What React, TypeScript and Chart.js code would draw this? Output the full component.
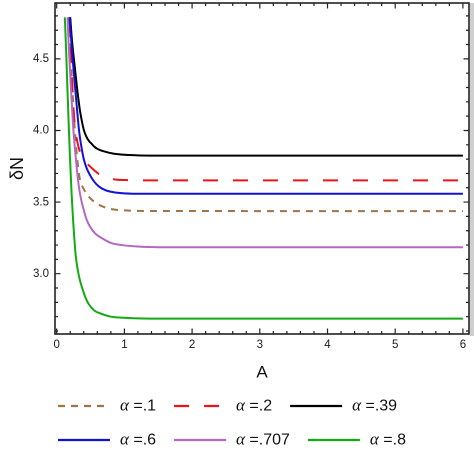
import { useEffect, useRef } from 'react';
import { Chart, registerables } from 'chart.js';

Chart.register(...registerables);

// ---- data ----
const LABELS = ['α =.1', 'α =.2', 'α =.39', 'α =.6', 'α =.707', 'α =.8'];

const A_01 = [0.18, 0.20, 0.22, 0.24, 0.26, 0.28, 0.30, 0.32, 0.34, 0.37, 0.40, 0.44, 0.50, 0.59, 0.70, 0.82, 1.0, 1.3, 6];
const N_01 = [4.79, 4.58, 4.39, 4.22, 4.06, 3.93, 3.82, 3.73, 3.665, 3.62, 3.59, 3.56, 3.525, 3.49, 3.465, 3.45, 3.442, 3.438, 3.437];

const A_02 = [0.19, 0.21, 0.23, 0.25, 0.28, 0.32, 0.37, 0.43, 0.49, 0.56, 0.64, 0.75, 0.86, 1.0, 1.3, 6];
const N_02 = [4.79, 4.56, 4.33, 4.14, 3.99, 3.89, 3.82, 3.78, 3.75, 3.72, 3.69, 3.67, 3.658, 3.654, 3.652, 3.652];

const A_039 = [0.20, 0.22, 0.24, 0.27, 0.30, 0.34, 0.37, 0.40, 0.44, 0.48, 0.51, 0.56, 0.62, 0.71, 0.82, 0.95, 1.2, 1.6, 3, 6];
const N_039 = [4.79, 4.66, 4.56, 4.43, 4.30, 4.15, 4.07, 4.005, 3.955, 3.925, 3.91, 3.885, 3.867, 3.853, 3.840, 3.832, 3.826, 3.824, 3.824, 3.824];

const A_06 = [0.19, 0.21, 0.23, 0.25, 0.27, 0.30, 0.33, 0.36, 0.40, 0.44, 0.49, 0.55, 0.62, 0.72, 0.85, 1.0, 1.3, 3, 6];
const N_06 = [4.79, 4.66, 4.53, 4.42, 4.31, 4.15, 4.00, 3.90, 3.80, 3.74, 3.69, 3.645, 3.61, 3.583, 3.568, 3.561, 3.558, 3.558, 3.558];

const A_0707 = [0.16, 0.18, 0.21, 0.24, 0.27, 0.30, 0.33, 0.36, 0.40, 0.44, 0.49, 0.57, 0.66, 0.80, 0.96, 1.2, 1.5, 6];
const N_0707 = [4.79, 4.57, 4.30, 4.05, 3.87, 3.72, 3.60, 3.52, 3.445, 3.38, 3.33, 3.28, 3.25, 3.215, 3.20, 3.19, 3.185, 3.185];

const A_08 = [0.12, 0.14, 0.16, 0.18, 0.20, 0.22, 0.24, 0.26, 0.28, 0.31, 0.34, 0.37, 0.42, 0.47, 0.55, 0.66, 0.80, 0.96, 1.2, 1.6, 6];
const N_08 = [4.79, 4.55, 4.27, 4.01, 3.77, 3.56, 3.39, 3.25, 3.13, 3.03, 2.96, 2.91, 2.84, 2.79, 2.745, 2.72, 2.70, 2.693, 2.688, 2.686, 2.686];

const X_TICKS = [0, 1, 2, 3, 4, 5, 6];
const Y_TICKS = [3.0, 3.5, 4.0, 4.5];

const X_MIN = -0.025;
const X_MAX = 6.09;
const Y_MIN = 2.579;
const Y_MAX = 4.89;

const COLORS = ['#a07448', '#e8151b', '#000000', '#1212d6', '#b468c2', '#14aa14'];
const DASHES: number[][] = [[7, 6], [15, 15], [], [], [], []];

const SERIES_A = [A_01, A_02, A_039, A_06, A_0707, A_08];
const SERIES_N = [N_01, N_02, N_039, N_06, N_0707, N_08];

const FONT = '"Liberation Sans", Arial, sans-serif';

const framePlugin = {
  id: 'frameTicks',
  afterDatasetsDraw(chart: any) {
    const { ctx, chartArea } = chart;
    const { left, right, top, bottom } = chartArea;
    const xs = chart.scales.x;
    const ys = chart.scales.y;
    ctx.save();
    ctx.strokeStyle = '#222';
    ctx.lineWidth = 1.2;
    const MAJ = 5.5;
    const MIN = 3;
    ctx.beginPath();
    for (let i = 0; i <= 30; i++) {
      const v = i * 0.2;
      const major = i % 5 === 0;
      const px = xs.getPixelForValue(v);
      const len = major ? MAJ : MIN;
      ctx.moveTo(px, bottom);
      ctx.lineTo(px, bottom - len);
      ctx.moveTo(px, top);
      ctx.lineTo(px, top + len);
    }
    for (let i = 26; i <= 48; i++) {
      const v = i / 10;
      const major = i % 5 === 0;
      const py = ys.getPixelForValue(v);
      const len = major ? MAJ : MIN;
      ctx.moveTo(left, py);
      ctx.lineTo(left + len, py);
      ctx.moveTo(right, py);
      ctx.lineTo(right - len, py);
    }
    ctx.stroke();
    ctx.lineWidth = 1.6;
    ctx.strokeRect(left, top, right - left, bottom - top);
    // light shadow on the right edge
    ctx.fillStyle = '#cfcfcf';
    ctx.fillRect(right + 1, top, 4, bottom - top + 2);
    ctx.restore();
  },
};

const legendPlugin = {
  id: 'customLegend',
  afterDraw(chart: any) {
    const { ctx } = chart;
    const rows = [406, 440];
    const startX = 58;
    const lineLen = 52;
    const gapText = 10;
    const gapItem = 18;
    ctx.save();
    let x = startX;
    chart.data.datasets.forEach((ds: any, i: number) => {
      const row = Math.floor(i / 3);
      const col = i % 3;
      if (col === 0) x = startX;
      const y = rows[row];
      ctx.strokeStyle = ds.borderColor;
      ctx.lineWidth = 2.2;
      ctx.setLineDash(ds.borderDash || []);
      ctx.beginPath();
      ctx.moveTo(x, y);
      ctx.lineTo(x + lineLen, y);
      ctx.stroke();
      ctx.setLineDash([]);
      x += lineLen + gapText;
      const label: string = ds.label;
      const greek = label.charAt(0);
      const rest = label.slice(1);
      ctx.fillStyle = '#111';
      ctx.textBaseline = 'middle';
      ctx.textAlign = 'left';
      ctx.font = 'italic 17px "Liberation Serif", serif';
      ctx.fillText(greek, x, y);
      x += ctx.measureText(greek).width;
      ctx.font = '16px ' + FONT;
      ctx.fillText(rest, x, y);
      x += ctx.measureText(rest).width + gapItem;
    });
    ctx.restore();
  },
};

export default function App() {
  const ref = useRef<HTMLCanvasElement | null>(null);

  useEffect(() => {
    if (!ref.current) return;
    const datasets = LABELS.map((label, i) => ({
      label,
      data: SERIES_A[i].map((a, j) => ({ x: a, y: SERIES_N[i][j] })),
      borderColor: COLORS[i],
      backgroundColor: COLORS[i],
      borderWidth: 2,
      borderDash: DASHES[i],
      pointRadius: 0,
      fill: false,
      cubicInterpolationMode: 'monotone' as const,
      order: 6 - i,
    }));

    const chart = new Chart(ref.current, {
      type: 'line',
      data: { datasets },
      options: {
        animation: false,
        responsive: false,
        devicePixelRatio: 2,
        layout: { padding: { left: 0, right: 5, top: 3, bottom: 76 } },
        plugins: {
          legend: { display: false },
          tooltip: { enabled: false },
        },
        scales: {
          x: {
            type: 'linear',
            min: X_MIN,
            max: X_MAX,
            grid: { display: false, drawTicks: false },
            border: { display: false },
            afterBuildTicks: (s: any) => {
              s.ticks = X_TICKS.map((v) => ({ value: v }));
            },
            afterFit: (s: any) => {
              s.height = 50;
              s.paddingLeft = 0;
              s.paddingRight = 0;
            },
            ticks: {
              padding: 4,
              color: '#1a1a1a',
              font: { family: FONT, size: 11.5 },
              maxRotation: 0,
              callback: (v: any) => String(v),
            },
            title: {
              display: true,
              text: 'A',
              color: '#111',
              font: { family: FONT, size: 17 },
              padding: { top: 0, bottom: 1 },
            },
          },
          y: {
            type: 'linear',
            min: Y_MIN,
            max: Y_MAX,
            grid: { display: false, drawTicks: false },
            border: { display: false },
            afterBuildTicks: (s: any) => {
              s.ticks = Y_TICKS.map((v) => ({ value: v }));
            },
            afterFit: (s: any) => {
              s.width = 55;
              s.paddingTop = 0;
              s.paddingBottom = 0;
            },
            ticks: {
              padding: 6,
              color: '#1a1a1a',
              font: { family: FONT, size: 11.5 },
              callback: (v: any) => Number(v).toFixed(1),
            },
            title: {
              display: true,
              text: 'δN',
              color: '#111',
              font: { family: FONT, size: 18 },
              padding: { top: 7, bottom: 0 },
            },
          },
        },
      },
      plugins: [framePlugin, legendPlugin],
    } as any);

    return () => chart.destroy();
  }, []);

  return (
    <div style={{ position: 'absolute', left: 0, top: 0, width: 474, height: 460, background: '#fff' }}>
      <canvas ref={ref} width={474} height={460} style={{ display: 'block', width: 474, height: 460 }} />
    </div>
  );
}
